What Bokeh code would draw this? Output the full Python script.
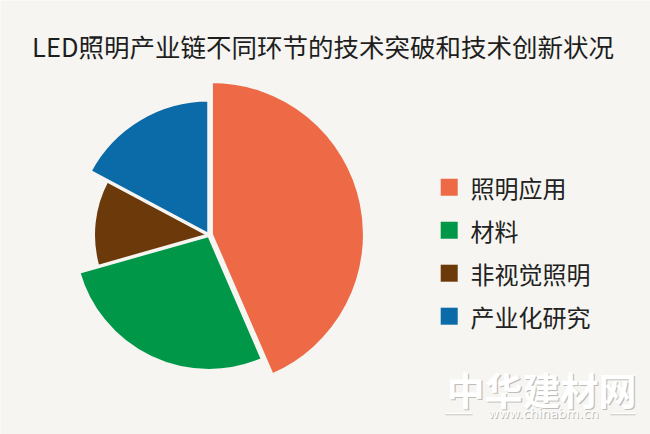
import numpy as np
from bokeh.plotting import figure
from bokeh.models import Range1d, ColumnDataSource
from bokeh.core.properties import value
from bokeh.embed import file_html
from bokeh.resources import INLINE

# ---- data ----
title = "LED照明产业链不同环节的技术突破和技术创新状况"
categories = ["照明应用", "材料", "非视觉照明", "产业化研究"]
shares = [43.5, 27.1, 12.2, 17.2]
colors = ["#EE6A46", "#009848", "#6C3A0A", "#0A6BA8"]

# ---- style ----
W, H = 650, 434
BG = "#F6F5F1"
FONT = "Noto Sans CJK SC"
radii = [153, 135, 115, 134.5]
explode = [2.5, 0.5, 0.5, 0.5]
cx, cy = 208.5, H - 234.5

p = figure(width=W, height=H, output_backend="svg", toolbar_location=None,
           x_range=Range1d(0, W), y_range=Range1d(0, H), min_border=0)
p.axis.visible = False
p.grid.visible = False
p.outline_line_color = None
p.background_fill_color = BG
p.border_fill_color = BG

vals = np.array(shares, dtype=float)
frac = vals / vals.sum()
cum = np.concatenate([[0], np.cumsum(frac)])
start = np.deg2rad(90 - cum[:-1] * 360)
end = np.deg2rad(90 - cum[1:] * 360)
mid = (start + end) / 2
xs = cx + np.array(explode) * np.cos(mid)
ys = cy + np.array(explode) * np.sin(mid)

src = ColumnDataSource(dict(x=xs, y=ys, r=radii, s=start, e=end, c=colors))
p.wedge(x="x", y="y", radius="r", start_angle="s", end_angle="e",
        direction="clock", fill_color="c", line_color=BG, line_width=3,
        source=src)

# title
p.text(x=[322.5], y=[H - 45], text=[title], text_align="center",
       text_baseline="middle", text_font=value(FONT), text_font_size="25.5px",
       text_color="#1E1E1E")

# legend
n = len(categories)
ly = (H - 186.7) - 43 * np.arange(n)
p.rect(x=[448.7] * n, y=ly, width=17, height=17, fill_color=colors,
       line_color=None)
p.text(x=[470] * n, y=ly, text=categories, text_align="left",
       text_baseline="middle", text_font=value(FONT), text_font_size="24px",
       text_color="#222222")

# watermark
wm_y = H - 388
p.text(x=[541 + 1.2], y=[wm_y - 1.2], text=["中华建材网"], text_align="center",
       text_baseline="middle", text_font=value(FONT), text_font_size="38px",
       text_font_style="bold", text_color="#B5B3AF", text_alpha=0.85)
p.text(x=[541], y=[wm_y], text=["中华建材网"], text_align="center",
       text_baseline="middle", text_font=value(FONT), text_font_size="38px",
       text_font_style="bold", text_color="#FFFFFF")
url_y = H - 413
p.text(x=[543 + 0.8], y=[url_y - 0.8], text=["www.chinabm.cn"], text_align="center",
       text_baseline="middle", text_font=value("DejaVu Sans"),
       text_font_size="13px", text_color="#B5B3AF")
p.text(x=[543], y=[url_y], text=["www.chinabm.cn"], text_align="center",
       text_baseline="middle", text_font=value("DejaVu Sans"),
       text_font_size="13px", text_color="#FFFFFF")
p.segment(x0=[445, 610], y0=[url_y - 0.8] * 2, x1=[472, 635], y1=[url_y - 0.8] * 2,
          line_color="#C8C6C2", line_width=2)
p.segment(x0=[445, 610], y0=[url_y] * 2, x1=[472, 635], y1=[url_y] * 2,
          line_color="#FFFFFF", line_width=1.5)

open("out.html", "w").write(file_html(p, INLINE))
